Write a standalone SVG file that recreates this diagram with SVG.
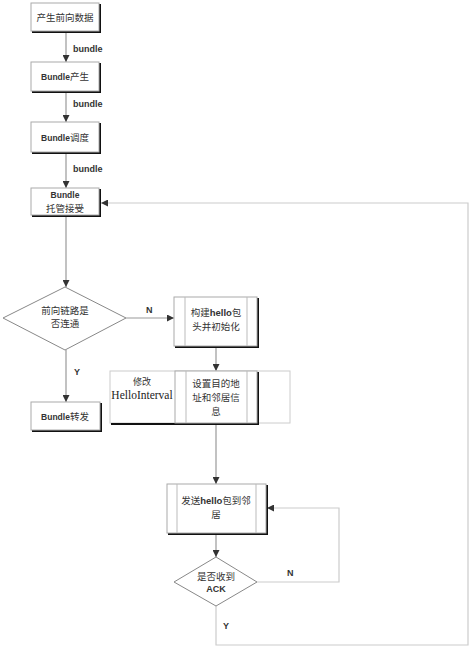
<svg xmlns="http://www.w3.org/2000/svg" width="474" height="652" viewBox="0 0 474 652">
<style>
.bx{fill:#fff;stroke:#aaa;stroke-width:1}
.sh{fill:none;stroke:#111;stroke-width:2}
.in{stroke:#bbb;stroke-width:1}
.ln{fill:none;stroke:#999;stroke-width:1.2}
.lt{fill:none;stroke:#ccc;stroke-width:1.2}
.t{font-family:"Noto Sans CJK SC","Noto Sans",sans-serif;font-size:9.5px;fill:#333;text-anchor:middle}
.l{font-family:"Liberation Sans","DejaVu Sans",sans-serif;font-size:9px;font-weight:bold;fill:#333}
</style>
<defs>
<marker id="ar" viewBox="0 0 10 10" refX="10" refY="5" markerWidth="7" markerHeight="7" orient="auto" markerUnits="userSpaceOnUse">
<path d="M0,0 L10,5 L0,10 z" fill="#333"/>
</marker>
</defs>
<rect width="474" height="652" fill="#fff"/>
<g id="connectors">
<line class="ln" x1="66" y1="32" x2="66" y2="62" marker-end="url(#ar)"/>
<line class="ln" x1="66" y1="92" x2="66" y2="122" marker-end="url(#ar)"/>
<line class="ln" x1="66" y1="153" x2="66" y2="188" marker-end="url(#ar)"/>
<line class="ln" x1="66" y1="216" x2="66" y2="287" marker-end="url(#ar)"/>
<line class="ln" x1="126" y1="318" x2="174" y2="318" marker-end="url(#ar)"/>
<line class="ln" x1="66" y1="350" x2="66" y2="402" marker-end="url(#ar)"/>
<line class="ln" x1="216" y1="347" x2="216" y2="371" marker-end="url(#ar)"/>
<line class="ln" x1="216" y1="424" x2="216" y2="484" marker-end="url(#ar)"/>
<line class="ln" x1="216" y1="534" x2="216" y2="557" marker-end="url(#ar)"/>
<polyline class="lt" points="257,582 339,582 339,508 267,508" marker-end="url(#ar)"/>
<polyline class="lt" points="216,606 216,645 468,645 468,203 101,203" marker-end="url(#ar)"/>
<text class="l" x="73" y="52">bundle</text>
<text class="l" x="73" y="107">bundle</text>
<text class="l" x="73" y="172">bundle</text>
<text class="l" x="146" y="313">N</text>
<text class="l" x="74" y="375">Y</text>
<text class="l" x="287" y="576">N</text>
<text class="l" x="223" y="629">Y</text>
</g>
<g id="n1">
<polyline class="sh" points="100,4 100,32 32,32"/>
<rect class="bx" x="31" y="3" width="68" height="28"/>
<text class="t" x="65" y="21">产生前向数据</text>
</g>
<g id="n2">
<polyline class="sh" points="100,63 100,92 32,92"/>
<rect class="bx" x="31" y="62" width="68" height="29"/>
<text class="t" x="65" y="80"><tspan class="l" style="font-size:8.5px">Bundle</tspan>产生</text>
</g>
<g id="n3">
<polyline class="sh" points="100,123 100,153 32,153"/>
<rect class="bx" x="31" y="122" width="68" height="30"/>
<text class="t" x="65" y="141"><tspan class="l" style="font-size:8.5px">Bundle</tspan>调度</text>
</g>
<g id="n4">
<polyline class="sh" points="100,189 100,216 32,216"/>
<rect class="bx" x="31" y="188" width="68" height="27"/>
<text class="l" x="65" y="198" text-anchor="middle" style="font-size:8.5px">Bundle</text>
<text class="t" x="65" y="211.5">托管接受</text>
</g>
<g id="d1">
<polygon points="65,287 126,318 65,350 3,318" fill="#fff" stroke="#888" stroke-width="1"/>
<text class="t" x="65" y="314">前向链路是</text>
<text class="t" x="65" y="327">否连通</text>
</g>
<g id="n5">
<polyline class="sh" points="258,298 258,347 175,347"/>
<rect class="bx" x="174" y="297" width="83" height="49"/>
<line class="in" x1="185" y1="297" x2="185" y2="346"/>
<line class="in" x1="247" y1="297" x2="247" y2="346"/>
<text class="t" x="216" y="316"><tspan>构建</tspan><tspan class="l" style="font-size:9.5px">hello</tspan><tspan>包</tspan></text>
<text class="t" x="216" y="330">头并初始化</text>
</g>
<g id="n6">
<polyline class="sh" points="101,403 101,431 32,431"/>
<rect class="bx" x="31" y="402" width="69" height="28"/>
<text class="t" x="65" y="420"><tspan class="l" style="font-size:8.5px">Bundle</tspan>转发</text>
</g>
<g id="n7">
<rect x="110" y="371" width="180" height="52" fill="#fff" stroke="#ccc" stroke-width="1"/>
<polyline class="sh" points="258,372 258,424 111,424"/>
<rect class="bx" x="175" y="371" width="82" height="52"/>
<line class="in" x1="186" y1="371" x2="186" y2="423"/>
<line class="in" x1="247" y1="371" x2="247" y2="423"/>
<text class="t" x="142" y="384.5" style="font-size:9px">修改</text>
<text x="142" y="399" style="font-family:'Liberation Serif',serif;font-size:11.5px;fill:#222;text-anchor:middle">HelloInterval</text>
<text class="t" x="216" y="387">设置目的地</text>
<text class="t" x="216" y="401">址和邻居信</text>
<text class="t" x="216" y="415">息</text>
</g>
<g id="n8">
<polyline class="sh" points="267,485 267,534 168,534"/>
<rect class="bx" x="167" y="484" width="99" height="49"/>
<line class="in" x1="177" y1="484" x2="177" y2="533"/>
<line class="in" x1="256" y1="484" x2="256" y2="533"/>
<text class="t" x="216" y="504"><tspan>发送</tspan><tspan class="l" style="font-size:9.5px">hello</tspan><tspan>包到邻</tspan></text>
<text class="t" x="216" y="518">居</text>
</g>
<g id="d2">
<polygon points="216,557 257,582 216,606 174,582" fill="#fff" stroke="#888" stroke-width="1"/>
<text class="t" x="216" y="580">是否收到</text>
<text class="l" x="216" y="592" text-anchor="middle">ACK</text>
</g>
</svg>
